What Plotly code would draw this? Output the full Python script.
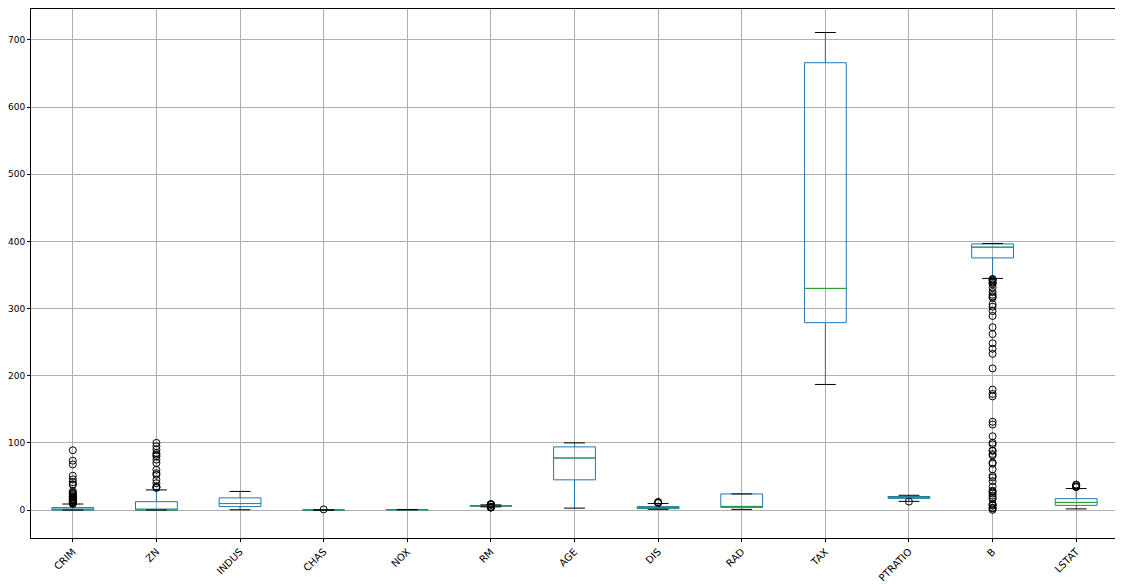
import plotly.graph_objects as go

columns = ["CRIM", "ZN", "INDUS", "CHAS", "NOX", "RM", "AGE", "DIS", "RAD", "TAX", "PTRATIO", "B", "LSTAT"]
q1 = [0.08, 0.0, 5.19, 0.0, 0.449, 5.886, 45.0, 2.10, 4.0, 279.0, 17.4, 375.4, 6.95]
median = [0.26, 0.0, 9.69, 0.0, 0.538, 6.208, 77.5, 3.21, 5.0, 330.0, 19.05, 391.4, 11.36]
q3 = [3.68, 12.5, 18.1, 0.0, 0.624, 6.623, 94.1, 5.19, 24.0, 666.0, 20.2, 396.2, 16.96]
low = [0.006, 0.0, 0.46, 0.0, 0.385, 4.78, 2.9, 1.13, 1.0, 187.0, 13.0, 344.9, 1.73]
high = [8.98, 30.0, 27.74, 0.0, 0.871, 7.69, 100.0, 9.82, 24.0, 711.0, 22.0, 396.9, 31.99]
outliers = {
    "CRIM": [9.2, 9.9, 10.8, 11.1, 12.0, 13.5, 14.3, 15.0, 15.8, 16.8, 18.5, 19.6, 20.1, 22.0, 23.6, 24.8, 25.9, 28.0, 37.7, 38.4, 41.5, 45.7, 51.1, 67.9, 73.5, 89.0],
    "ZN": [33, 34, 35, 40, 45, 52.5, 55, 60, 70, 75, 80, 82.5, 85, 90, 95, 100],
    "INDUS": [],
    "CHAS": [1.0],
    "NOX": [],
    "RM": [3.56, 3.86, 4.14, 4.37, 4.52, 4.63, 7.82, 8.04, 8.25, 8.38, 8.70, 8.78],
    "AGE": [],
    "DIS": [10.59, 10.71, 12.13],
    "RAD": [],
    "TAX": [],
    "PTRATIO": [12.6],
    "B": [0.32, 2.52, 3.5, 6.68, 7.68, 9.32, 16.45, 18.82, 21.57, 24.65, 27.25, 28.79, 35.05, 43.06, 48.45, 50.92, 60.72, 68.95, 70.8, 81.33, 83.45, 88.01, 88.63, 97.95, 100.19, 109.85, 127.36, 131.42, 169.27, 172.91, 179.36, 210.97, 232.6, 240.16, 248.31, 261.95, 272.21, 288.99, 296.29, 302.76, 306.38, 316.03, 318.01, 320.46, 324.66, 331.29, 336.04, 338.16, 338.92, 341.6, 343.28, 344.05],
    "LSTAT": [34.37, 34.41, 34.77, 36.98, 37.97],
}

pos = list(range(1, len(columns) + 1))
blue = "#1f77b4"

fig = go.Figure()
fig.add_trace(go.Box(
    x=pos, q1=q1, median=median, q3=q3, lowerfence=low, upperfence=high,
    width=0.5, whiskerwidth=0, line=dict(color=blue, width=1),
    fillcolor="rgba(0,0,0,0)", boxpoints=False, showlegend=False, hoverinfo="skip",
))

# medians (green) and whisker caps (black)
mx, my, cx, cy = [], [], [], []
for p, m, lo, hi in zip(pos, median, low, high):
    mx += [p - 0.25, p + 0.25, None]
    my += [m, m, None]
    for v in (lo, hi):
        cx += [p - 0.125, p + 0.125, None]
        cy += [v, v, None]
fig.add_trace(go.Scatter(x=mx, y=my, mode="lines", line=dict(color="#2ca02c", width=1), showlegend=False))
fig.add_trace(go.Scatter(x=cx, y=cy, mode="lines", line=dict(color="black", width=1), showlegend=False))

ox, oy = [], []
for p, c in zip(pos, columns):
    ox += [p] * len(outliers[c])
    oy += outliers[c]
fig.add_trace(go.Scatter(
    x=ox, y=oy, mode="markers", showlegend=False,
    marker=dict(symbol="circle-open", size=7, color="black", line=dict(width=1)),
))

axis_common = dict(showgrid=True, gridcolor="#b0b0b0", gridwidth=1, showline=True, linecolor="black",
                   mirror=True, ticks="outside", ticklen=3, tickcolor="black", zeroline=False,
                   automargin=False,
                   tickfont=dict(family="DejaVu Sans", size=9, color="black"))
fig.update_xaxes(range=[0.5, 13.5], tickvals=pos, ticktext=columns, tickangle=-45,
                 **{**axis_common, "tickfont": dict(family="DejaVu Sans", size=10, color="black")})
fig.update_yaxes(range=[-41.6, 746], tickvals=[0, 100, 200, 300, 400, 500, 600, 700], **axis_common)
fig.update_layout(
    width=1113, height=575, plot_bgcolor="white", paper_bgcolor="white",
    margin=dict(l=23, r=3, t=1, b=45),
)
fig.write_html("out.html")
